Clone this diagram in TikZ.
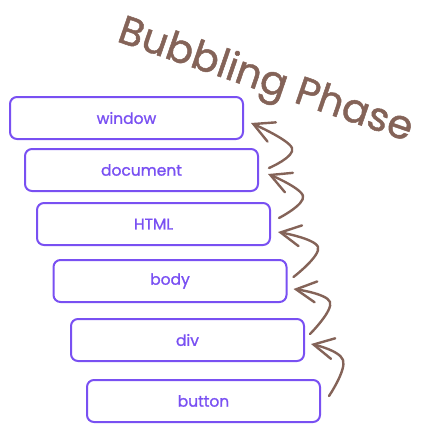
\documentclass[tikz,border=0pt]{standalone}
\usepackage{fontspec}
\setmainfont{Poppins}
\newfontfamily\handfont{Poppins}[FakeBold=1.2]
\usetikzlibrary{calc,arrows.meta}
\definecolor{violet}{HTML}{7950F2}
\definecolor{bbrown}{HTML}{846358}
\tikzset{
  layer/.style={draw=violet, line width=2pt, rounded corners=7pt, minimum width=233pt,
    minimum height=42pt, inner sep=0pt, text=violet, font=\handfont\fontsize{15.5}{18}\selectfont},
  bub/.style={draw=bbrown, line width=2.4pt, line cap=round, line join=round,
    -{Straight Barb[length=20pt,width=21pt,line cap=round]}},
}
\begin{document}
\begin{tikzpicture}[x=1pt,y=-1pt]
\useasboundingbox (0,0) rectangle (430,432);
\node[layer] (window)   at (126.5,118) {window};
\node[layer] (document) at (141.5,170) {document};
\node[layer] (html)     at (153.5,224) {HTML};
\node[layer] (body)     at (170,281)   {body};
\node[layer] (div)      at (187.5,340) {div};
\node[layer] (button)   at (203.5,401) {button};
\node[text=bbrown, rotate=-19, font=\handfont\fontsize{40}{46}\selectfont, inner sep=0pt] (title) at (265,82) {Bubbling Phase};
% arrow geometry
\coordinate (s1) at ($(button.east)+(8,-5)$);
\coordinate (t1) at ($(div.east)+(6,4)$);
\coordinate (v1) at (343,360);
\coordinate (s2) at ($(div.east)+(5,-6)$);
\coordinate (t2) at ($(body.east)+(6,8)$);
\coordinate (v2) at (330,302);
\coordinate (s3) at ($(body.east)+(6,-4)$);
\coordinate (t3) at ($(html.east)+(7,8)$);
\coordinate (v3) at (318,247);
\coordinate (s4) at ($(html.east)+(8,-6)$);
\coordinate (t4) at ($(document.east)+(9,4)$);
\coordinate (v4) at (303,196);
\coordinate (s5) at ($(document.east)+(10,-2)$);
\coordinate (t5) at ($(window.east)+(7,5)$);
\coordinate (v5) at (292,148);
\foreach \i in {1,...,5}
  \draw[bub] plot[smooth, tension=0.7] coordinates {(s\i) (v\i) (t\i)};
\end{tikzpicture}
\end{document}
